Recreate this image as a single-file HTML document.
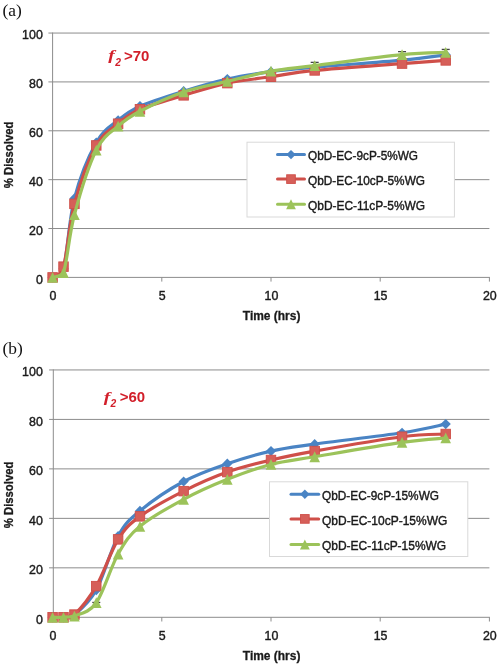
<!DOCTYPE html>
<html><head><meta charset="utf-8"><title>Dissolution profiles</title>
<style>
html,body{margin:0;padding:0;background:#fff;}
body{width:500px;height:667px;overflow:hidden;}
svg{display:block;}
.tk{font-family:"Liberation Sans",Arial,sans-serif;font-size:12.4px;fill:#1a1a1a;stroke:#1a1a1a;stroke-width:0.4px;}
.lg{font-family:"Liberation Sans",Arial,sans-serif;font-size:12px;fill:#1a1a1a;stroke:#1a1a1a;stroke-width:0.4px;}
.ti{font-family:"Liberation Sans",Arial,sans-serif;font-size:12.4px;font-weight:bold;fill:#1a1a1a;stroke:#1a1a1a;stroke-width:0.3px;}
.pl{font-family:"Liberation Serif","Times New Roman",serif;font-size:17.4px;fill:#111;}
.f2{font-family:"Liberation Sans",Arial,sans-serif;font-size:14px;font-weight:bold;fill:#d21f2a;}
.f2f{font-family:"Liberation Serif",serif;font-size:15.6px;font-weight:bold;font-style:italic;fill:#d21f2a;}
.f2s{font-family:"Liberation Sans",Arial,sans-serif;font-size:10.3px;font-weight:bold;font-style:italic;fill:#d21f2a;}
</style></head>
<body>
<svg width="500" height="667" viewBox="0 0 500 667">
<rect width="500" height="667" fill="#fff"/>
<line x1="48.40" y1="228.53" x2="489.40" y2="228.53" stroke="#8c8c8c" stroke-width="1"/>
<line x1="48.40" y1="179.66" x2="489.40" y2="179.66" stroke="#8c8c8c" stroke-width="1"/>
<line x1="48.40" y1="130.79" x2="489.40" y2="130.79" stroke="#8c8c8c" stroke-width="1"/>
<line x1="48.40" y1="81.92" x2="489.40" y2="81.92" stroke="#8c8c8c" stroke-width="1"/>
<line x1="48.40" y1="33.05" x2="489.40" y2="33.05" stroke="#8c8c8c" stroke-width="1"/>
<line x1="52.60" y1="32.55" x2="52.60" y2="277.40" stroke="#8c8c8c" stroke-width="1"/>
<line x1="48.40" y1="277.40" x2="489.90" y2="277.40" stroke="#8c8c8c" stroke-width="1"/>
<line x1="52.60" y1="277.40" x2="52.60" y2="281.60" stroke="#8c8c8c" stroke-width="1"/>
<line x1="161.80" y1="277.40" x2="161.80" y2="281.60" stroke="#8c8c8c" stroke-width="1"/>
<line x1="271.00" y1="277.40" x2="271.00" y2="281.60" stroke="#8c8c8c" stroke-width="1"/>
<line x1="380.20" y1="277.40" x2="380.20" y2="281.60" stroke="#8c8c8c" stroke-width="1"/>
<line x1="489.40" y1="277.40" x2="489.40" y2="281.60" stroke="#8c8c8c" stroke-width="1"/>
<text x="42.8" y="283.60" text-anchor="end" class="tk">0</text>
<text x="42.8" y="234.73" text-anchor="end" class="tk">20</text>
<text x="42.8" y="185.86" text-anchor="end" class="tk">40</text>
<text x="42.8" y="136.99" text-anchor="end" class="tk">60</text>
<text x="42.8" y="88.12" text-anchor="end" class="tk">80</text>
<text x="42.8" y="39.25" text-anchor="end" class="tk">100</text>
<text x="53.00" y="299.70" text-anchor="middle" class="tk">0</text>
<text x="162.20" y="299.70" text-anchor="middle" class="tk">5</text>
<text x="271.40" y="299.70" text-anchor="middle" class="tk">10</text>
<text x="380.60" y="299.70" text-anchor="middle" class="tk">15</text>
<text x="489.80" y="299.70" text-anchor="middle" class="tk">20</text>
<text x="271.6" y="320.00" text-anchor="middle" class="ti" textLength="57.6" lengthAdjust="spacingAndGlyphs">Time (hrs)</text>
<text transform="translate(12.6,154.90) rotate(-90)" x="0" y="0" text-anchor="middle" class="ti" textLength="66.6" lengthAdjust="spacingAndGlyphs">% Dissolved</text>
<text x="2.40" y="15.90" class="pl">(a)</text>
<text transform="translate(108.30,60.10) scale(1.25,1)" class="f2f">f</text>
<text x="115.30" y="65.90" class="f2s">2</text>
<text x="124.00" y="61.00" class="f2" textLength="25.4" lengthAdjust="spacingAndGlyphs">&gt;70</text>
<path d="M52.60,277.40 C54.42,275.97 59.88,277.40 63.52,268.85 C67.16,255.69 68.98,219.53 74.44,198.47 C79.90,177.42 89.00,155.55 96.28,142.52 C103.56,129.49 110.84,126.35 118.12,120.28 C125.40,114.21 129.04,110.96 139.96,106.11 C150.88,101.26 169.08,95.73 183.64,91.21 C198.20,86.68 212.76,82.25 227.32,78.99 C241.88,75.73 256.44,73.61 271.00,71.66 C285.56,69.70 292.84,69.17 314.68,67.26 C336.52,65.34 380.20,62.25 402.04,60.17 C423.88,58.10 438.44,55.69 445.72,54.80" fill="none" stroke="#4a84c4" stroke-width="3.2" stroke-linejoin="round" stroke-linecap="round"/>
<path d="M52.60,272.30 L57.70,277.40 L52.60,282.50 L47.50,277.40 Z" fill="#4a84c4"/>
<path d="M63.52,263.75 L68.62,268.85 L63.52,273.95 L58.42,268.85 Z" fill="#4a84c4"/>
<path d="M74.44,193.37 L79.54,198.47 L74.44,203.57 L69.34,198.47 Z" fill="#4a84c4"/>
<path d="M96.28,137.42 L101.38,142.52 L96.28,147.62 L91.18,142.52 Z" fill="#4a84c4"/>
<path d="M118.12,115.18 L123.22,120.28 L118.12,125.38 L113.02,120.28 Z" fill="#4a84c4"/>
<path d="M139.96,101.01 L145.06,106.11 L139.96,111.21 L134.86,106.11 Z" fill="#4a84c4"/>
<path d="M183.64,86.11 L188.74,91.21 L183.64,96.31 L178.54,91.21 Z" fill="#4a84c4"/>
<path d="M227.32,73.89 L232.42,78.99 L227.32,84.09 L222.22,78.99 Z" fill="#4a84c4"/>
<path d="M271.00,66.56 L276.10,71.66 L271.00,76.76 L265.90,71.66 Z" fill="#4a84c4"/>
<path d="M314.68,62.16 L319.78,67.26 L314.68,72.36 L309.58,67.26 Z" fill="#4a84c4"/>
<path d="M402.04,55.07 L407.14,60.17 L402.04,65.27 L396.94,60.17 Z" fill="#4a84c4"/>
<path d="M445.72,49.70 L450.82,54.80 L445.72,59.90 L440.62,54.80 Z" fill="#4a84c4"/>
<path d="M52.60,277.40 C54.42,275.61 59.88,277.40 63.52,266.65 C67.16,254.39 68.98,224.05 74.44,203.85 C79.90,183.65 89.00,158.81 96.28,145.45 C103.56,132.09 110.84,129.73 118.12,123.70 C125.40,117.68 129.04,114.01 139.96,109.29 C150.88,104.56 169.08,99.72 183.64,95.36 C198.20,91.00 212.76,86.24 227.32,83.14 C241.88,80.05 256.44,78.91 271.00,76.79 C285.56,74.67 292.84,72.63 314.68,70.44 C336.52,68.24 380.20,65.26 402.04,63.59 C423.88,61.92 438.44,60.95 445.72,60.42" fill="none" stroke="#cf4f49" stroke-width="3.2" stroke-linejoin="round" stroke-linecap="round"/>
<rect x="47.85" y="272.65" width="9.50" height="9.50" fill="#d65f59" stroke="#cf4f49" stroke-width="0.9"/>
<rect x="58.77" y="261.90" width="9.50" height="9.50" fill="#d65f59" stroke="#cf4f49" stroke-width="0.9"/>
<rect x="69.69" y="199.10" width="9.50" height="9.50" fill="#d65f59" stroke="#cf4f49" stroke-width="0.9"/>
<rect x="91.53" y="140.70" width="9.50" height="9.50" fill="#d65f59" stroke="#cf4f49" stroke-width="0.9"/>
<rect x="113.37" y="118.95" width="9.50" height="9.50" fill="#d65f59" stroke="#cf4f49" stroke-width="0.9"/>
<rect x="135.21" y="104.54" width="9.50" height="9.50" fill="#d65f59" stroke="#cf4f49" stroke-width="0.9"/>
<rect x="178.89" y="90.61" width="9.50" height="9.50" fill="#d65f59" stroke="#cf4f49" stroke-width="0.9"/>
<rect x="222.57" y="78.39" width="9.50" height="9.50" fill="#d65f59" stroke="#cf4f49" stroke-width="0.9"/>
<rect x="266.25" y="72.04" width="9.50" height="9.50" fill="#d65f59" stroke="#cf4f49" stroke-width="0.9"/>
<rect x="309.93" y="65.69" width="9.50" height="9.50" fill="#d65f59" stroke="#cf4f49" stroke-width="0.9"/>
<rect x="397.29" y="58.84" width="9.50" height="9.50" fill="#d65f59" stroke="#cf4f49" stroke-width="0.9"/>
<rect x="440.97" y="55.67" width="9.50" height="9.50" fill="#d65f59" stroke="#cf4f49" stroke-width="0.9"/>
<path d="M52.60,277.40 C54.42,276.59 59.88,277.40 63.52,272.51 C67.16,262.05 68.98,235.01 74.44,214.60 C79.90,194.20 89.00,164.84 96.28,150.09 C103.56,135.35 110.84,132.62 118.12,126.15 C125.40,119.67 129.04,116.94 139.96,111.24 C150.88,105.54 169.08,96.91 183.64,91.94 C198.20,86.97 212.76,84.89 227.32,81.43 C241.88,77.97 256.44,73.82 271.00,71.17 C285.56,68.52 292.84,68.32 314.68,65.55 C336.52,62.78 380.20,56.75 402.04,54.55 C423.88,52.35 438.44,52.72 445.72,52.35" fill="none" stroke="#9cc35a" stroke-width="3.2" stroke-linejoin="round" stroke-linecap="round"/>
<line x1="310.68" y1="62.37" x2="318.68" y2="62.37" stroke="#444" stroke-width="1.3"/>
<line x1="398.04" y1="51.62" x2="406.04" y2="51.62" stroke="#444" stroke-width="1.3"/>
<line x1="441.72" y1="49.42" x2="449.72" y2="49.42" stroke="#444" stroke-width="1.3"/>
<path d="M52.60,272.00 L57.90,282.80 L47.30,282.80 Z" fill="#9cc35a"/>
<path d="M63.52,267.11 L68.82,277.91 L58.22,277.91 Z" fill="#9cc35a"/>
<path d="M74.44,209.20 L79.74,220.00 L69.14,220.00 Z" fill="#9cc35a"/>
<path d="M96.28,144.69 L101.58,155.49 L90.98,155.49 Z" fill="#9cc35a"/>
<path d="M118.12,120.75 L123.42,131.55 L112.82,131.55 Z" fill="#9cc35a"/>
<path d="M139.96,105.84 L145.26,116.64 L134.66,116.64 Z" fill="#9cc35a"/>
<path d="M183.64,86.54 L188.94,97.34 L178.34,97.34 Z" fill="#9cc35a"/>
<path d="M227.32,76.03 L232.62,86.83 L222.02,86.83 Z" fill="#9cc35a"/>
<path d="M271.00,65.77 L276.30,76.57 L265.70,76.57 Z" fill="#9cc35a"/>
<path d="M314.68,60.15 L319.98,70.95 L309.38,70.95 Z" fill="#9cc35a"/>
<path d="M402.04,49.15 L407.34,59.95 L396.74,59.95 Z" fill="#9cc35a"/>
<path d="M445.72,46.95 L451.02,57.75 L440.42,57.75 Z" fill="#9cc35a"/>
<rect x="247.00" y="142.20" width="207.40" height="74.80" fill="#fff" stroke="#d9d9d9" stroke-width="1"/>
<line x1="277.50" y1="154.60" x2="304.50" y2="154.60" stroke="#4a84c4" stroke-width="3" stroke-linecap="round"/>
<path d="M291.00,149.91 L295.69,154.60 L291.00,159.29 L286.31,154.60 Z" fill="#4a84c4"/>
<text x="308.00" y="160.30" class="lg" textLength="110.0" lengthAdjust="spacingAndGlyphs">QbD-EC-9cP-5%WG</text>
<line x1="277.50" y1="179.10" x2="304.50" y2="179.10" stroke="#cf4f49" stroke-width="3" stroke-linecap="round"/>
<rect x="286.67" y="174.77" width="8.67" height="8.67" fill="#d65f59" stroke="#cf4f49" stroke-width="0.9"/>
<text x="308.00" y="184.80" class="lg" textLength="117.0" lengthAdjust="spacingAndGlyphs">QbD-EC-10cP-5%WG</text>
<line x1="277.50" y1="204.20" x2="304.50" y2="204.20" stroke="#9cc35a" stroke-width="3" stroke-linecap="round"/>
<path d="M291.00,199.23 L295.88,209.17 L286.12,209.17 Z" fill="#9cc35a"/>
<text x="308.00" y="209.90" class="lg" textLength="117.0" lengthAdjust="spacingAndGlyphs">QbD-EC-11cP-5%WG</text>
<line x1="49.10" y1="567.83" x2="489.40" y2="567.83" stroke="#8c8c8c" stroke-width="1"/>
<line x1="49.10" y1="518.36" x2="489.40" y2="518.36" stroke="#8c8c8c" stroke-width="1"/>
<line x1="49.10" y1="468.89" x2="489.40" y2="468.89" stroke="#8c8c8c" stroke-width="1"/>
<line x1="49.10" y1="419.42" x2="489.40" y2="419.42" stroke="#8c8c8c" stroke-width="1"/>
<line x1="49.10" y1="369.95" x2="489.40" y2="369.95" stroke="#8c8c8c" stroke-width="1"/>
<line x1="53.30" y1="369.45" x2="53.30" y2="617.30" stroke="#8c8c8c" stroke-width="1"/>
<line x1="49.10" y1="617.30" x2="489.90" y2="617.30" stroke="#8c8c8c" stroke-width="1"/>
<line x1="52.60" y1="617.30" x2="52.60" y2="621.50" stroke="#8c8c8c" stroke-width="1"/>
<line x1="161.80" y1="617.30" x2="161.80" y2="621.50" stroke="#8c8c8c" stroke-width="1"/>
<line x1="271.00" y1="617.30" x2="271.00" y2="621.50" stroke="#8c8c8c" stroke-width="1"/>
<line x1="380.20" y1="617.30" x2="380.20" y2="621.50" stroke="#8c8c8c" stroke-width="1"/>
<line x1="489.40" y1="617.30" x2="489.40" y2="621.50" stroke="#8c8c8c" stroke-width="1"/>
<text x="42.8" y="623.50" text-anchor="end" class="tk">0</text>
<text x="42.8" y="574.03" text-anchor="end" class="tk">20</text>
<text x="42.8" y="524.56" text-anchor="end" class="tk">40</text>
<text x="42.8" y="475.09" text-anchor="end" class="tk">60</text>
<text x="42.8" y="425.62" text-anchor="end" class="tk">80</text>
<text x="42.8" y="376.15" text-anchor="end" class="tk">100</text>
<text x="53.00" y="639.60" text-anchor="middle" class="tk">0</text>
<text x="162.20" y="639.60" text-anchor="middle" class="tk">5</text>
<text x="271.40" y="639.60" text-anchor="middle" class="tk">10</text>
<text x="380.60" y="639.60" text-anchor="middle" class="tk">15</text>
<text x="489.80" y="639.60" text-anchor="middle" class="tk">20</text>
<text x="271.6" y="660.00" text-anchor="middle" class="ti" textLength="57.6" lengthAdjust="spacingAndGlyphs">Time (hrs)</text>
<text transform="translate(12.6,494.90) rotate(-90)" x="0" y="0" text-anchor="middle" class="ti" textLength="66.6" lengthAdjust="spacingAndGlyphs">% Dissolved</text>
<text x="2.40" y="353.50" class="pl">(b)</text>
<text transform="translate(103.70,401.90) scale(1.25,1)" class="f2f">f</text>
<text x="110.40" y="406.60" class="f2s">2</text>
<text x="119.80" y="402.40" class="f2" textLength="25.4" lengthAdjust="spacingAndGlyphs">&gt;60</text>
<path d="M52.60,617.30 C54.42,617.30 59.88,617.30 63.52,617.30 C67.16,616.89 68.98,617.30 74.44,614.83 C79.90,610.29 89.00,603.20 96.28,590.09 C103.56,576.98 110.84,549.36 118.12,536.17 C125.40,522.98 129.04,520.05 139.96,510.94 C150.88,501.83 169.08,489.38 183.64,481.50 C198.20,473.63 212.76,468.77 227.32,463.70 C241.88,458.62 256.44,454.34 271.00,451.08 C285.56,447.82 292.84,447.21 314.68,444.15 C336.52,441.10 380.20,436.12 402.04,432.78 C423.88,429.44 438.44,425.56 445.72,424.12" fill="none" stroke="#4a84c4" stroke-width="3.2" stroke-linejoin="round" stroke-linecap="round"/>
<path d="M52.60,612.20 L57.70,617.30 L52.60,622.40 L47.50,617.30 Z" fill="#4a84c4"/>
<path d="M63.52,612.20 L68.62,617.30 L63.52,622.40 L58.42,617.30 Z" fill="#4a84c4"/>
<path d="M74.44,609.73 L79.54,614.83 L74.44,619.93 L69.34,614.83 Z" fill="#4a84c4"/>
<path d="M96.28,584.99 L101.38,590.09 L96.28,595.19 L91.18,590.09 Z" fill="#4a84c4"/>
<path d="M118.12,531.07 L123.22,536.17 L118.12,541.27 L113.02,536.17 Z" fill="#4a84c4"/>
<path d="M139.96,505.84 L145.06,510.94 L139.96,516.04 L134.86,510.94 Z" fill="#4a84c4"/>
<path d="M183.64,476.40 L188.74,481.50 L183.64,486.60 L178.54,481.50 Z" fill="#4a84c4"/>
<path d="M227.32,458.60 L232.42,463.70 L227.32,468.80 L222.22,463.70 Z" fill="#4a84c4"/>
<path d="M271.00,445.98 L276.10,451.08 L271.00,456.18 L265.90,451.08 Z" fill="#4a84c4"/>
<path d="M314.68,439.05 L319.78,444.15 L314.68,449.25 L309.58,444.15 Z" fill="#4a84c4"/>
<path d="M402.04,427.68 L407.14,432.78 L402.04,437.88 L396.94,432.78 Z" fill="#4a84c4"/>
<path d="M445.72,419.02 L450.82,424.12 L445.72,429.22 L440.62,424.12 Z" fill="#4a84c4"/>
<path d="M52.60,617.30 C54.42,617.30 59.88,617.30 63.52,617.30 C67.16,616.85 68.98,617.30 74.44,614.58 C79.90,609.38 89.00,598.67 96.28,586.13 C103.56,573.60 110.84,551.01 118.12,539.38 C125.40,527.76 129.04,524.42 139.96,516.38 C150.88,508.34 169.08,498.53 183.64,491.15 C198.20,483.77 212.76,477.30 227.32,472.11 C241.88,466.91 256.44,463.49 271.00,459.99 C285.56,456.48 292.84,454.96 314.68,451.08 C336.52,447.21 380.20,439.58 402.04,436.73 C423.88,434.01 438.44,434.47 445.72,434.01" fill="none" stroke="#cf4f49" stroke-width="3.2" stroke-linejoin="round" stroke-linecap="round"/>
<rect x="47.85" y="612.55" width="9.50" height="9.50" fill="#d65f59" stroke="#cf4f49" stroke-width="0.9"/>
<rect x="58.77" y="612.55" width="9.50" height="9.50" fill="#d65f59" stroke="#cf4f49" stroke-width="0.9"/>
<rect x="69.69" y="609.83" width="9.50" height="9.50" fill="#d65f59" stroke="#cf4f49" stroke-width="0.9"/>
<rect x="91.53" y="581.38" width="9.50" height="9.50" fill="#d65f59" stroke="#cf4f49" stroke-width="0.9"/>
<rect x="113.37" y="534.63" width="9.50" height="9.50" fill="#d65f59" stroke="#cf4f49" stroke-width="0.9"/>
<rect x="135.21" y="511.63" width="9.50" height="9.50" fill="#d65f59" stroke="#cf4f49" stroke-width="0.9"/>
<rect x="178.89" y="486.40" width="9.50" height="9.50" fill="#d65f59" stroke="#cf4f49" stroke-width="0.9"/>
<rect x="222.57" y="467.36" width="9.50" height="9.50" fill="#d65f59" stroke="#cf4f49" stroke-width="0.9"/>
<rect x="266.25" y="455.24" width="9.50" height="9.50" fill="#d65f59" stroke="#cf4f49" stroke-width="0.9"/>
<rect x="309.93" y="446.33" width="9.50" height="9.50" fill="#d65f59" stroke="#cf4f49" stroke-width="0.9"/>
<rect x="397.29" y="431.98" width="9.50" height="9.50" fill="#d65f59" stroke="#cf4f49" stroke-width="0.9"/>
<rect x="440.97" y="429.26" width="9.50" height="9.50" fill="#d65f59" stroke="#cf4f49" stroke-width="0.9"/>
<path d="M52.60,617.30 C54.42,617.30 59.88,617.30 63.52,617.30 C67.16,617.09 68.98,617.30 74.44,616.06 C79.90,613.63 89.00,613.05 96.28,602.71 C103.56,592.36 110.84,566.72 118.12,553.98 C125.40,541.24 129.04,535.39 139.96,526.28 C150.88,517.16 169.08,507.15 183.64,499.31 C198.20,491.48 212.76,485.09 227.32,479.28 C241.88,473.47 256.44,468.19 271.00,464.44 C285.56,460.69 292.84,460.44 314.68,456.77 C336.52,453.10 380.20,445.56 402.04,442.42 C423.88,439.29 438.44,438.71 445.72,437.97" fill="none" stroke="#9cc35a" stroke-width="3.2" stroke-linejoin="round" stroke-linecap="round"/>
<line x1="92.28" y1="602.46" x2="100.28" y2="602.46" stroke="#444" stroke-width="1.3"/>
<path d="M52.60,611.90 L57.90,622.70 L47.30,622.70 Z" fill="#9cc35a"/>
<path d="M63.52,611.90 L68.82,622.70 L58.22,622.70 Z" fill="#9cc35a"/>
<path d="M74.44,610.66 L79.74,621.46 L69.14,621.46 Z" fill="#9cc35a"/>
<path d="M96.28,597.31 L101.58,608.11 L90.98,608.11 Z" fill="#9cc35a"/>
<path d="M118.12,548.58 L123.42,559.38 L112.82,559.38 Z" fill="#9cc35a"/>
<path d="M139.96,520.88 L145.26,531.68 L134.66,531.68 Z" fill="#9cc35a"/>
<path d="M183.64,493.91 L188.94,504.71 L178.34,504.71 Z" fill="#9cc35a"/>
<path d="M227.32,473.88 L232.62,484.68 L222.02,484.68 Z" fill="#9cc35a"/>
<path d="M271.00,459.04 L276.30,469.84 L265.70,469.84 Z" fill="#9cc35a"/>
<path d="M314.68,451.37 L319.98,462.17 L309.38,462.17 Z" fill="#9cc35a"/>
<path d="M402.04,437.02 L407.34,447.82 L396.74,447.82 Z" fill="#9cc35a"/>
<path d="M445.72,432.57 L451.02,443.37 L440.42,443.37 Z" fill="#9cc35a"/>
<rect x="269.50" y="481.80" width="198.30" height="74.70" fill="#fff" stroke="#d9d9d9" stroke-width="1"/>
<line x1="291.00" y1="494.30" x2="318.70" y2="494.30" stroke="#4a84c4" stroke-width="3" stroke-linecap="round"/>
<path d="M304.85,489.61 L309.54,494.30 L304.85,498.99 L300.16,494.30 Z" fill="#4a84c4"/>
<text x="322.00" y="500.00" class="lg" textLength="117.0" lengthAdjust="spacingAndGlyphs">QbD-EC-9cP-15%WG</text>
<line x1="291.00" y1="518.90" x2="318.70" y2="518.90" stroke="#cf4f49" stroke-width="3" stroke-linecap="round"/>
<rect x="300.52" y="514.57" width="8.67" height="8.67" fill="#d65f59" stroke="#cf4f49" stroke-width="0.9"/>
<text x="322.00" y="524.60" class="lg" textLength="125.3" lengthAdjust="spacingAndGlyphs">QbD-EC-10cP-15%WG</text>
<line x1="291.00" y1="544.50" x2="318.70" y2="544.50" stroke="#9cc35a" stroke-width="3" stroke-linecap="round"/>
<path d="M304.85,539.53 L309.73,549.47 L299.97,549.47 Z" fill="#9cc35a"/>
<text x="322.00" y="550.20" class="lg" textLength="124.2" lengthAdjust="spacingAndGlyphs">QbD-EC-11cP-15%WG</text>
</svg>
</body></html>
